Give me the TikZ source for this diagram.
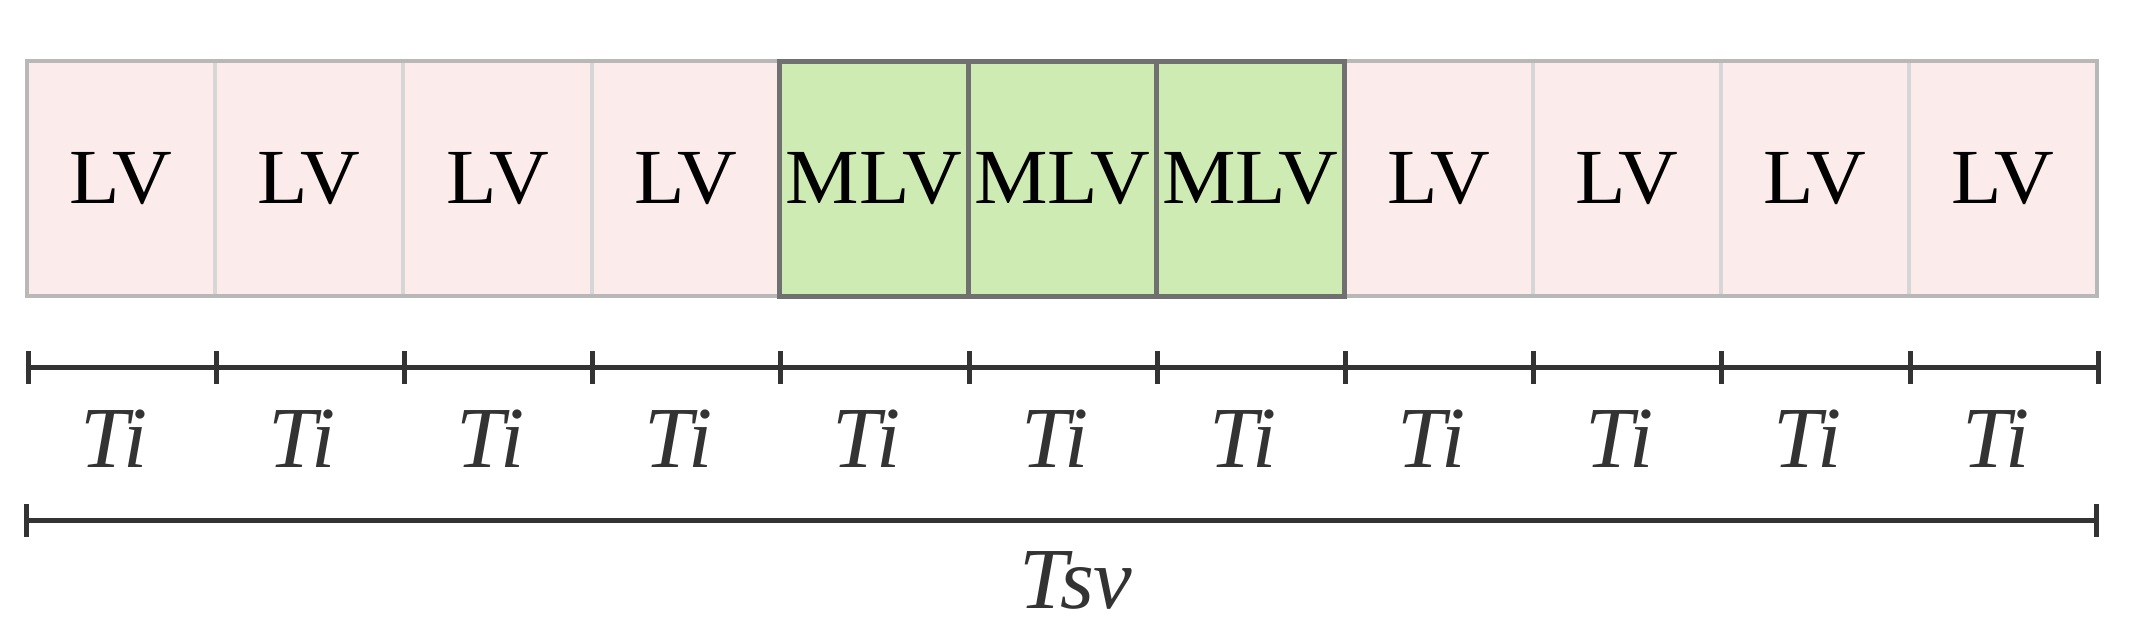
\documentclass[tikz,border=0pt]{standalone}
\usepackage{fontspec}
\setmainfont{Liberation Serif}
\newfontfamily\cellfont[FakeStretch=1.06]{Liberation Serif}
\definecolor{pinkfill}{HTML}{FCEBEB}
\definecolor{cellline}{HTML}{D6D6D6}
\definecolor{outerline}{HTML}{B8B8B8}
\definecolor{greenfill}{HTML}{CFEBB4}
\definecolor{mline}{HTML}{707070}
\definecolor{rulecol}{HTML}{333333}
\begin{document}
\begin{tikzpicture}[x=1pt,y=-1pt,
  cell/.style={draw=cellline, line width=4pt, fill=pinkfill, minimum width=188.2pt,
    minimum height=235pt, inner sep=0pt, outer sep=0pt, text=black,
    font=\cellfont\fontsize{78}{80}\selectfont},
  mcell/.style={cell, draw=mline, line width=5pt, fill=greenfill},
  rulerline/.style={draw=rulecol, line width=5pt},
  tlabel/.style={text=rulecol, inner sep=0pt, anchor=base, font=\fontsize{87}{90}\selectfont\itshape}]
\useasboundingbox (0,0) rectangle (2142,640);
% pink cells
\foreach \i in {0,1,2,3,7,8,9,10}{
  \node[cell] (b\i) at ({121.1+188.2*\i},178.5) {LV};
}
% outer frame
\draw[draw=outerline, line width=4pt] (b0.north west) rectangle (b10.south east);
% green cells
\foreach \i in {4,5,6}{
  \node[mcell] (b\i) at ({121.1+188.2*\i},178.5) {MLV};
}
% upper ruler
\foreach \k in {0,...,11}{
  \coordinate (t\k) at ({28+188.2*\k},367);
}
\draw[rulerline] (t0) -- (t11);
\foreach \k in {0,...,11}{
  \draw[rulerline] ([yshift=-16.5pt]t\k) -- ([yshift=16.5pt]t\k);
}
\foreach \k in {0,...,10}{
  \node[tlabel] (l\k) at ({114+188.2*\k},467) {Ti};
}
% lower ruler
\coordinate (s0) at (26,520);
\coordinate (s1) at (2096,520);
\draw[rulerline] (s0) -- (s1);
\draw[rulerline] ([yshift=-16.5pt]s0) -- ([yshift=16.5pt]s0);
\draw[rulerline] ([yshift=-16.5pt]s1) -- ([yshift=16.5pt]s1);
\node[tlabel] (tsv) at (1076,608) {Tsv};
\end{tikzpicture}
\end{document}
